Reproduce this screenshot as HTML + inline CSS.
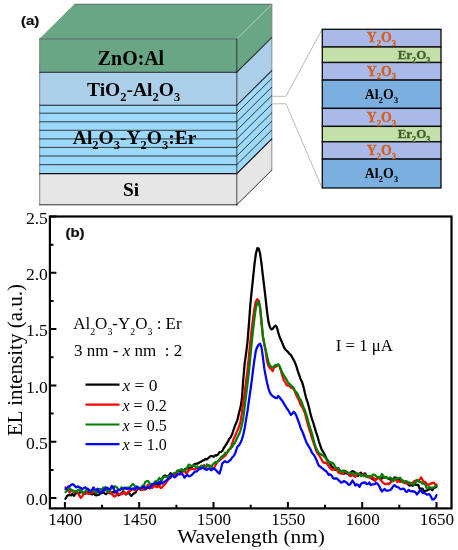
<!DOCTYPE html>
<html lang="en"><head><meta charset="utf-8"><title>Figure</title>
<style>html,body{margin:0;padding:0;background:#fff}svg{display:block}</style></head>
<body>
<svg width="458" height="550" viewBox="0 0 458 550">
<rect width="458" height="550" fill="#ffffff"/>
<polygon points="39.7,39.0 74.7,4.3 271.8,4.3 236.8,39.0" fill="#69a685" stroke="#69a685" stroke-width="0.4"/>
<polygon points="39.7,39.0 236.8,39.0 236.8,72.2 39.7,72.2" fill="#69a685" stroke="#69a685" stroke-width="0.4"/>
<polygon points="236.8,39.0 271.8,4.3 271.8,37.5 236.8,72.2" fill="#69a685" stroke="#69a685" stroke-width="0.4"/>
<polygon points="39.7,72.2 236.8,72.2 236.8,105.3 39.7,105.3" fill="#abcee9" stroke="#abcee9" stroke-width="0.4"/>
<polygon points="236.8,72.2 271.8,37.5 271.8,70.6 236.8,105.3" fill="#abcee9" stroke="#abcee9" stroke-width="0.4"/>
<polygon points="39.7,105.3 236.8,105.3 236.8,113.2 39.7,113.2" fill="#9cd9fc" stroke="#9cd9fc" stroke-width="0.4"/>
<polygon points="236.8,105.3 271.8,70.6 271.8,78.5 236.8,113.2" fill="#9cd9fc" stroke="#9cd9fc" stroke-width="0.4"/>
<polygon points="39.7,113.2 236.8,113.2 236.8,121.8 39.7,121.8" fill="#9cd9fc" stroke="#9cd9fc" stroke-width="0.4"/>
<polygon points="236.8,113.2 271.8,78.5 271.8,87.1 236.8,121.8" fill="#9cd9fc" stroke="#9cd9fc" stroke-width="0.4"/>
<polygon points="39.7,121.8 236.8,121.8 236.8,130.3 39.7,130.3" fill="#9cd9fc" stroke="#9cd9fc" stroke-width="0.4"/>
<polygon points="236.8,121.8 271.8,87.1 271.8,95.6 236.8,130.3" fill="#9cd9fc" stroke="#9cd9fc" stroke-width="0.4"/>
<polygon points="39.7,130.3 236.8,130.3 236.8,138.9 39.7,138.9" fill="#9cd9fc" stroke="#9cd9fc" stroke-width="0.4"/>
<polygon points="236.8,130.3 271.8,95.6 271.8,104.2 236.8,138.9" fill="#9cd9fc" stroke="#9cd9fc" stroke-width="0.4"/>
<polygon points="39.7,138.9 236.8,138.9 236.8,147.4 39.7,147.4" fill="#9cd9fc" stroke="#9cd9fc" stroke-width="0.4"/>
<polygon points="236.8,138.9 271.8,104.2 271.8,112.7 236.8,147.4" fill="#9cd9fc" stroke="#9cd9fc" stroke-width="0.4"/>
<polygon points="39.7,147.4 236.8,147.4 236.8,156.0 39.7,156.0" fill="#9cd9fc" stroke="#9cd9fc" stroke-width="0.4"/>
<polygon points="236.8,147.4 271.8,112.7 271.8,121.3 236.8,156.0" fill="#9cd9fc" stroke="#9cd9fc" stroke-width="0.4"/>
<polygon points="39.7,156.0 236.8,156.0 236.8,164.7 39.7,164.7" fill="#9cd9fc" stroke="#9cd9fc" stroke-width="0.4"/>
<polygon points="236.8,156.0 271.8,121.3 271.8,130.0 236.8,164.7" fill="#9cd9fc" stroke="#9cd9fc" stroke-width="0.4"/>
<polygon points="39.7,164.7 236.8,164.7 236.8,173.6 39.7,173.6" fill="#9cd9fc" stroke="#9cd9fc" stroke-width="0.4"/>
<polygon points="236.8,164.7 271.8,130.0 271.8,138.9 236.8,173.6" fill="#9cd9fc" stroke="#9cd9fc" stroke-width="0.4"/>
<polygon points="39.7,173.6 236.8,173.6 236.8,204.8 39.7,204.8" fill="#e6e6e6" stroke="#e6e6e6" stroke-width="0.4"/>
<polygon points="236.8,173.6 271.8,138.9 271.8,170.1 236.8,204.8" fill="#e6e6e6" stroke="#e6e6e6" stroke-width="0.4"/>
<line x1="236.8" y1="39.0" x2="271.8" y2="4.3" stroke="#b4d2c0" stroke-width="0.9" stroke-linecap="round"/>
<line x1="39.7" y1="39.0" x2="74.7" y2="4.3" stroke="#5f9a78" stroke-width="0.6" stroke-linecap="round"/>
<line x1="74.7" y1="4.3" x2="271.8" y2="4.3" stroke="#5a5a5a" stroke-width="0.8" stroke-linecap="round"/>
<line x1="271.8" y1="4.3" x2="271.8" y2="170.1" stroke="#7a7a7a" stroke-width="0.8" stroke-linecap="round"/>
<line x1="39.7" y1="39.0" x2="236.8" y2="39.0" stroke="#5a5a5a" stroke-width="0.8" stroke-linecap="round"/>
<line x1="39.7" y1="39.0" x2="39.7" y2="204.8" stroke="#7a7a7a" stroke-width="0.9" stroke-linecap="round"/>
<line x1="39.7" y1="72.2" x2="236.8" y2="72.2" stroke="#1c1c1c" stroke-width="1.05" stroke-linecap="round"/>
<line x1="236.8" y1="72.2" x2="271.8" y2="37.5" stroke="#1c1c1c" stroke-width="1.05" stroke-linecap="round"/>
<line x1="39.7" y1="105.3" x2="236.8" y2="105.3" stroke="#1c1c1c" stroke-width="1.05" stroke-linecap="round"/>
<line x1="236.8" y1="105.3" x2="271.8" y2="70.6" stroke="#1c1c1c" stroke-width="1.05" stroke-linecap="round"/>
<line x1="39.7" y1="113.2" x2="236.8" y2="113.2" stroke="#1c1c1c" stroke-width="0.85" stroke-linecap="round"/>
<line x1="236.8" y1="113.2" x2="271.8" y2="78.5" stroke="#1c1c1c" stroke-width="0.85" stroke-linecap="round"/>
<line x1="39.7" y1="121.8" x2="236.8" y2="121.8" stroke="#1c1c1c" stroke-width="0.85" stroke-linecap="round"/>
<line x1="236.8" y1="121.8" x2="271.8" y2="87.1" stroke="#1c1c1c" stroke-width="0.85" stroke-linecap="round"/>
<line x1="39.7" y1="130.3" x2="236.8" y2="130.3" stroke="#1c1c1c" stroke-width="0.85" stroke-linecap="round"/>
<line x1="236.8" y1="130.3" x2="271.8" y2="95.6" stroke="#1c1c1c" stroke-width="0.85" stroke-linecap="round"/>
<line x1="39.7" y1="138.9" x2="236.8" y2="138.9" stroke="#1c1c1c" stroke-width="0.85" stroke-linecap="round"/>
<line x1="236.8" y1="138.9" x2="271.8" y2="104.2" stroke="#1c1c1c" stroke-width="0.85" stroke-linecap="round"/>
<line x1="39.7" y1="147.4" x2="236.8" y2="147.4" stroke="#1c1c1c" stroke-width="0.85" stroke-linecap="round"/>
<line x1="236.8" y1="147.4" x2="271.8" y2="112.7" stroke="#1c1c1c" stroke-width="0.85" stroke-linecap="round"/>
<line x1="39.7" y1="156.0" x2="236.8" y2="156.0" stroke="#1c1c1c" stroke-width="0.85" stroke-linecap="round"/>
<line x1="236.8" y1="156.0" x2="271.8" y2="121.3" stroke="#1c1c1c" stroke-width="0.85" stroke-linecap="round"/>
<line x1="39.7" y1="164.7" x2="236.8" y2="164.7" stroke="#1c1c1c" stroke-width="0.85" stroke-linecap="round"/>
<line x1="236.8" y1="164.7" x2="271.8" y2="130.0" stroke="#1c1c1c" stroke-width="0.85" stroke-linecap="round"/>
<line x1="39.7" y1="173.6" x2="236.8" y2="173.6" stroke="#111" stroke-width="1.2" stroke-linecap="round"/>
<line x1="236.8" y1="173.6" x2="271.8" y2="138.9" stroke="#111" stroke-width="1.2" stroke-linecap="round"/>
<line x1="39.7" y1="204.8" x2="236.8" y2="204.8" stroke="#1c1c1c" stroke-width="0.9" stroke-linecap="round"/>
<line x1="236.8" y1="204.8" x2="271.8" y2="170.1" stroke="#1c1c1c" stroke-width="0.9" stroke-linecap="round"/>
<line x1="236.8" y1="39.0" x2="236.8" y2="204.8" stroke="#1c1c1c" stroke-width="0.8" stroke-linecap="round"/>
<text x="131" y="64.6" font-family="'Liberation Serif', serif" font-size="19.9" font-weight="bold" text-anchor="middle" fill="#000" >ZnO:Al</text>
<text x="133.6" y="95.9" font-family="'Liberation Serif', serif" font-size="19.5" font-weight="bold" text-anchor="middle" fill="#000" >TiO<tspan dy="5.2" font-size="0.64em">2</tspan><tspan dy="-5.2">-Al</tspan><tspan dy="5.2" font-size="0.64em">2</tspan><tspan dy="-5.2">O</tspan><tspan dy="5.2" font-size="0.64em">3</tspan></text>
<text x="134.6" y="143.6" font-family="'Liberation Serif', serif" font-size="19.5" font-weight="bold" text-anchor="middle" fill="#000" >Al<tspan dy="5.2" font-size="0.64em">2</tspan><tspan dy="-5.2">O</tspan><tspan dy="5.2" font-size="0.64em">3</tspan><tspan dy="-5.2">-Y</tspan><tspan dy="5.2" font-size="0.64em">2</tspan><tspan dy="-5.2">O</tspan><tspan dy="5.2" font-size="0.64em">3</tspan><tspan dy="-5.2">:Er</tspan></text>
<text x="131" y="196" font-family="'Liberation Serif', serif" font-size="19.4" font-weight="bold" text-anchor="middle" fill="#000" >Si</text>
<text transform="translate(21.0,24.5) scale(1.12,1)" font-family="'Liberation Sans', sans-serif" font-size="13.4" font-weight="bold" fill="#111" stroke="#111" stroke-width="0.25">(a)</text>
<polyline points="272,96.3 286,96.3 322,29.5" fill="none" stroke="#b9bfae" stroke-width="1"/>
<polyline points="272,103.8 286,103.8 322,187.8" fill="none" stroke="#b9bfae" stroke-width="1"/>
<rect x="322.3" y="29.3" width="118.7" height="17.7" fill="#a9b9e8" stroke="#0a0a0a" stroke-width="1.3"/>
<rect x="322.3" y="47.0" width="118.7" height="15.5" fill="#c3e0a8" stroke="#0a0a0a" stroke-width="1.3"/>
<rect x="322.3" y="62.5" width="118.7" height="17.6" fill="#a9b9e8" stroke="#0a0a0a" stroke-width="1.3"/>
<rect x="322.3" y="80.1" width="118.7" height="28.3" fill="#7aafe0" stroke="#0a0a0a" stroke-width="1.3"/>
<rect x="322.3" y="108.4" width="118.7" height="18.0" fill="#a9b9e8" stroke="#0a0a0a" stroke-width="1.3"/>
<rect x="322.3" y="126.4" width="118.7" height="15.4" fill="#c3e0a8" stroke="#0a0a0a" stroke-width="1.3"/>
<rect x="322.3" y="141.8" width="118.7" height="17.3" fill="#a9b9e8" stroke="#0a0a0a" stroke-width="1.3"/>
<rect x="322.3" y="159.1" width="118.7" height="28.9" fill="#7aafe0" stroke="#0a0a0a" stroke-width="1.3"/>
<text x="381.3" y="42.2" font-family="'Liberation Serif', serif" font-size="13.8" font-weight="bold" text-anchor="middle" fill="#d55f20" stroke="#d55f20" stroke-width="0.3">Y<tspan dy="3.3" font-size="0.62em">2</tspan><tspan dy="-3.3">O</tspan><tspan dy="3.3" font-size="0.62em">3</tspan></text>
<text x="430.3" y="59.2" font-family="'Liberation Serif', serif" font-size="13" font-weight="bold" text-anchor="end" fill="#40602a" stroke="#40602a" stroke-width="0.3">Er<tspan dy="3.3" font-size="0.62em">2</tspan><tspan dy="-3.3">O</tspan><tspan dy="3.3" font-size="0.62em">3</tspan></text>
<text x="381.3" y="76" font-family="'Liberation Serif', serif" font-size="13.8" font-weight="bold" text-anchor="middle" fill="#d55f20" stroke="#d55f20" stroke-width="0.3">Y<tspan dy="3.3" font-size="0.62em">2</tspan><tspan dy="-3.3">O</tspan><tspan dy="3.3" font-size="0.62em">3</tspan></text>
<text x="381.5" y="99.1" font-family="'Liberation Serif', serif" font-size="13.8" font-weight="bold" text-anchor="middle" fill="#000" >Al<tspan dy="3.8" font-size="0.64em">2</tspan><tspan dy="-3.8">O</tspan><tspan dy="3.8" font-size="0.64em">3</tspan></text>
<text x="381.3" y="122.3" font-family="'Liberation Serif', serif" font-size="13.8" font-weight="bold" text-anchor="middle" fill="#d55f20" stroke="#d55f20" stroke-width="0.3">Y<tspan dy="3.3" font-size="0.62em">2</tspan><tspan dy="-3.3">O</tspan><tspan dy="3.3" font-size="0.62em">3</tspan></text>
<text x="430.3" y="138.3" font-family="'Liberation Serif', serif" font-size="13" font-weight="bold" text-anchor="end" fill="#40602a" stroke="#40602a" stroke-width="0.3">Er<tspan dy="3.3" font-size="0.62em">2</tspan><tspan dy="-3.3">O</tspan><tspan dy="3.3" font-size="0.62em">3</tspan></text>
<text x="381.3" y="155.2" font-family="'Liberation Serif', serif" font-size="13.8" font-weight="bold" text-anchor="middle" fill="#d55f20" stroke="#d55f20" stroke-width="0.3">Y<tspan dy="3.3" font-size="0.62em">2</tspan><tspan dy="-3.3">O</tspan><tspan dy="3.3" font-size="0.62em">3</tspan></text>
<text x="381.5" y="178.3" font-family="'Liberation Serif', serif" font-size="13.8" font-weight="bold" text-anchor="middle" fill="#000" >Al<tspan dy="3.8" font-size="0.64em">2</tspan><tspan dy="-3.8">O</tspan><tspan dy="3.8" font-size="0.64em">3</tspan></text>
<g fill="none" stroke-width="2.25" stroke-linejoin="round" stroke-linecap="round">
<polyline stroke="#000000" points="65.5,498.8 66.9,496.2 68.3,495.0 69.7,495.0 71.1,495.4 72.5,493.8 73.9,495.8 75.3,494.0 76.7,492.7 78.1,493.1 79.5,493.1 80.9,491.0 82.3,491.7 83.7,493.4 85.1,493.9 86.5,492.7 87.9,492.3 89.3,492.7 90.7,493.9 92.1,494.4 93.5,492.9 94.9,494.9 96.3,495.3 97.7,494.9 99.1,494.7 100.5,493.4 101.9,493.0 103.3,492.5 104.7,493.4 106.1,494.2 107.5,493.0 108.9,492.9 110.3,493.4 111.7,492.4 113.1,492.1 114.5,492.5 115.9,491.6 117.3,493.0 118.7,495.3 120.1,494.4 121.5,493.0 122.9,491.7 124.3,492.2 125.7,494.4 127.1,493.7 128.5,492.0 129.9,494.4 131.3,495.9 132.7,494.4 134.1,493.3 135.5,492.6 136.9,489.8 138.3,488.3 139.7,488.1 141.1,488.5 142.5,489.0 143.9,489.5 145.3,489.3 146.7,488.3 148.1,487.9 149.5,486.7 150.9,487.7 152.3,486.6 153.7,485.7 155.1,484.8 156.5,484.4 157.9,485.0 159.3,485.1 160.7,483.0 162.1,478.6 163.5,476.2 164.9,475.5 166.3,476.0 167.7,476.8 169.1,475.2 170.5,473.2 171.9,474.2 173.3,475.0 174.7,473.8 176.1,473.2 177.5,471.8 178.9,470.7 180.3,470.9 181.7,471.0 183.1,470.3 184.5,469.5 185.9,468.6 187.3,468.3 188.7,467.9 190.1,468.4 191.5,467.5 192.9,465.8 194.3,464.2 195.7,463.8 197.1,463.6 198.5,463.1 199.9,462.1 201.3,461.7 202.7,460.6 204.1,460.1 205.5,459.0 206.9,459.3 208.3,458.2 209.7,456.7 211.1,456.0 212.5,456.2 213.9,456.8 215.3,455.1 216.7,455.5 218.1,454.3 219.5,452.2 220.9,452.0 222.3,451.1 223.7,448.0 225.1,446.2 226.5,443.9 227.9,441.7 229.3,438.7 230.7,437.2 232.1,434.3 233.5,430.0 234.9,425.9 236.3,422.8 237.7,418.8 239.1,412.4 240.5,407.6 241.9,398.8 243.3,379.2 244.7,363.2 246.1,353.3 247.5,341.9 248.9,324.4 250.3,305.1 251.7,291.0 253.1,277.7 254.5,264.0 255.9,253.8 257.3,248.2 258.7,248.5 260.1,253.8 261.5,263.7 262.9,275.9 264.3,287.3 265.7,299.4 267.1,312.1 268.5,322.1 269.9,327.1 271.3,329.3 272.7,328.9 274.1,326.8 275.5,325.6 276.9,327.3 278.3,332.6 279.7,337.3 281.1,340.3 282.5,343.5 283.9,347.1 285.3,349.4 286.7,350.7 288.1,352.1 289.5,354.0 290.9,354.9 292.3,357.5 293.7,359.9 295.1,362.8 296.5,366.6 297.9,371.4 299.3,375.3 300.7,379.5 302.1,382.1 303.5,386.9 304.9,393.1 306.3,398.7 307.7,402.5 309.1,407.8 310.5,413.9 311.9,418.8 313.3,422.7 314.7,427.6 316.1,432.4 317.5,436.3 318.9,441.5 320.3,445.6 321.7,449.6 323.1,451.8 324.5,454.2 325.9,457.5 327.3,459.8 328.7,461.6 330.1,463.8 331.5,466.3 332.9,467.4 334.3,469.5 335.7,469.9 337.1,469.2 338.5,468.3 339.9,470.5 341.3,471.8 342.7,473.2 344.1,473.7 345.5,473.0 346.9,473.5 348.3,473.9 349.7,475.1 351.1,472.0 352.5,471.1 353.9,471.8 355.3,472.6 356.7,473.6 358.1,476.0 359.5,473.9 360.9,472.6 362.3,474.9 363.7,473.8 365.1,473.4 366.5,475.7 367.9,476.6 369.3,476.0 370.7,478.1 372.1,478.8 373.5,479.8 374.9,479.0 376.3,479.3 377.7,477.9 379.1,477.0 380.5,479.7 381.9,478.2 383.3,477.4 384.7,477.4 386.1,477.5 387.5,477.8 388.9,478.8 390.3,479.6 391.7,480.4 393.1,478.9 394.5,477.4 395.9,477.5 397.3,478.6 398.7,478.8 400.1,481.3 401.5,481.1 402.9,481.6 404.3,482.4 405.7,481.8 407.1,482.9 408.5,485.0 409.9,485.6 411.3,484.8 412.7,485.8 414.1,484.1 415.5,484.8 416.9,484.8 418.3,484.8 419.7,489.0 421.1,488.7 422.5,488.6 423.9,491.3 425.3,490.8 426.7,490.7 428.1,489.7 429.5,489.3 430.9,488.8 432.3,490.2 433.7,488.3 435.1,487.6 436.5,486.7"/>
<polyline stroke="#ff0000" points="65.5,487.4 66.9,489.2 68.3,490.3 69.7,492.8 71.1,490.4 72.5,490.5 73.9,492.1 75.3,491.1 76.7,491.3 78.1,493.0 79.5,496.0 80.9,497.9 82.3,496.1 83.7,493.5 85.1,493.4 86.5,492.7 87.9,493.6 89.3,493.9 90.7,492.9 92.1,492.7 93.5,491.6 94.9,492.3 96.3,492.6 97.7,490.9 99.1,492.0 100.5,491.8 101.9,490.3 103.3,488.9 104.7,488.5 106.1,489.3 107.5,491.4 108.9,493.1 110.3,491.1 111.7,493.5 113.1,495.5 114.5,496.6 115.9,495.7 117.3,493.7 118.7,493.7 120.1,494.4 121.5,494.2 122.9,493.4 124.3,492.1 125.7,494.3 127.1,493.6 128.5,491.4 129.9,491.2 131.3,489.7 132.7,488.9 134.1,489.9 135.5,490.3 136.9,488.6 138.3,488.0 139.7,489.3 141.1,490.2 142.5,489.4 143.9,488.3 145.3,488.6 146.7,486.9 148.1,484.7 149.5,485.9 150.9,487.2 152.3,487.8 153.7,486.7 155.1,485.5 156.5,487.2 157.9,486.8 159.3,486.0 160.7,488.1 162.1,487.4 163.5,485.6 164.9,484.4 166.3,482.4 167.7,480.3 169.1,478.8 170.5,478.0 171.9,474.8 173.3,475.2 174.7,475.3 176.1,473.2 177.5,473.6 178.9,473.9 180.3,474.3 181.7,473.9 183.1,471.3 184.5,470.3 185.9,472.9 187.3,472.6 188.7,470.1 190.1,469.5 191.5,468.9 192.9,469.0 194.3,469.4 195.7,469.1 197.1,466.6 198.5,468.2 199.9,467.3 201.3,466.2 202.7,466.8 204.1,465.0 205.5,467.4 206.9,466.6 208.3,465.2 209.7,465.6 211.1,466.2 212.5,468.6 213.9,468.4 215.3,465.4 216.7,462.9 218.1,461.2 219.5,460.4 220.9,459.3 222.3,457.8 223.7,456.8 225.1,455.9 226.5,453.8 227.9,450.8 229.3,449.2 230.7,448.7 232.1,443.5 233.5,439.3 234.9,436.5 236.3,433.1 237.7,429.8 239.1,426.4 240.5,421.7 241.9,412.9 243.3,402.0 244.7,392.3 246.1,381.5 247.5,370.2 248.9,356.2 250.3,341.8 251.7,329.2 253.1,318.0 254.5,308.1 255.9,301.5 257.3,299.2 258.7,300.6 260.1,308.3 261.5,323.9 262.9,337.0 264.3,344.3 265.7,351.5 267.1,361.3 268.5,365.9 269.9,368.1 271.3,369.1 272.7,371.1 274.1,367.4 275.5,366.9 276.9,365.6 278.3,365.2 279.7,366.6 281.1,371.5 282.5,376.1 283.9,380.4 285.3,382.3 286.7,385.2 288.1,385.6 289.5,385.7 290.9,387.7 292.3,388.2 293.7,388.9 295.1,392.0 296.5,395.6 297.9,398.1 299.3,401.0 300.7,405.1 302.1,406.5 303.5,409.8 304.9,413.0 306.3,418.6 307.7,424.2 309.1,428.6 310.5,433.0 311.9,438.0 313.3,442.0 314.7,446.0 316.1,450.5 317.5,453.3 318.9,454.9 320.3,457.3 321.7,459.7 323.1,462.1 324.5,463.0 325.9,462.7 327.3,464.0 328.7,466.2 330.1,467.9 331.5,469.6 332.9,469.9 334.3,468.8 335.7,468.6 337.1,470.2 338.5,472.6 339.9,473.3 341.3,473.4 342.7,473.8 344.1,471.4 345.5,471.3 346.9,471.9 348.3,473.4 349.7,476.0 351.1,476.0 352.5,474.5 353.9,475.9 355.3,476.9 356.7,474.9 358.1,474.2 359.5,473.7 360.9,475.4 362.3,475.2 363.7,474.1 365.1,475.4 366.5,477.1 367.9,476.5 369.3,477.4 370.7,478.0 372.1,477.2 373.5,477.6 374.9,481.0 376.3,479.1 377.7,478.0 379.1,478.4 380.5,479.4 381.9,481.4 383.3,482.9 384.7,483.9 386.1,484.2 387.5,483.5 388.9,484.1 390.3,482.8 391.7,480.8 393.1,480.5 394.5,480.2 395.9,479.1 397.3,482.1 398.7,481.0 400.1,481.7 401.5,480.9 402.9,480.4 404.3,482.6 405.7,483.3 407.1,483.3 408.5,483.8 409.9,483.0 411.3,483.2 412.7,483.1 414.1,481.2 415.5,480.7 416.9,481.1 418.3,480.9 419.7,479.7 421.1,477.4 422.5,479.8 423.9,482.3 425.3,481.8 426.7,483.9 428.1,485.1 429.5,484.3 430.9,483.6 432.3,483.1 433.7,482.6 435.1,484.2 436.5,484.8"/>
<polyline stroke="#008000" points="65.5,492.1 66.9,490.8 68.3,489.7 69.7,488.2 71.1,489.7 72.5,490.5 73.9,491.4 75.3,490.8 76.7,491.8 78.1,490.0 79.5,489.5 80.9,491.4 82.3,492.6 83.7,492.6 85.1,491.5 86.5,489.9 87.9,489.9 89.3,490.3 90.7,491.9 92.1,490.0 93.5,489.8 94.9,491.3 96.3,493.0 97.7,491.3 99.1,489.2 100.5,489.1 101.9,489.7 103.3,487.7 104.7,487.4 106.1,488.1 107.5,490.9 108.9,492.2 110.3,489.2 111.7,488.1 113.1,487.7 114.5,486.2 115.9,486.7 117.3,487.9 118.7,490.3 120.1,489.4 121.5,487.3 122.9,489.7 124.3,489.3 125.7,487.7 127.1,487.7 128.5,487.9 129.9,487.0 131.3,485.9 132.7,484.0 134.1,485.1 135.5,486.9 136.9,486.6 138.3,487.9 139.7,487.8 141.1,487.7 142.5,485.7 143.9,485.5 145.3,481.9 146.7,481.2 148.1,481.0 149.5,483.1 150.9,484.2 152.3,483.9 153.7,483.7 155.1,481.3 156.5,481.4 157.9,480.3 159.3,478.0 160.7,479.5 162.1,479.7 163.5,476.7 164.9,476.6 166.3,476.9 167.7,476.9 169.1,476.1 170.5,475.6 171.9,475.7 173.3,473.6 174.7,473.0 176.1,472.7 177.5,470.4 178.9,470.4 180.3,470.5 181.7,469.0 183.1,470.5 184.5,471.3 185.9,469.7 187.3,467.6 188.7,464.6 190.1,465.4 191.5,465.9 192.9,465.7 194.3,465.4 195.7,467.3 197.1,466.7 198.5,467.0 199.9,467.2 201.3,465.7 202.7,466.1 204.1,468.5 205.5,467.5 206.9,464.5 208.3,465.5 209.7,466.5 211.1,467.3 212.5,464.8 213.9,463.3 215.3,462.1 216.7,462.4 218.1,461.1 219.5,459.2 220.9,457.4 222.3,456.2 223.7,455.6 225.1,452.9 226.5,452.7 227.9,451.8 229.3,449.7 230.7,447.3 232.1,447.1 233.5,444.4 234.9,442.7 236.3,439.8 237.7,436.8 239.1,434.1 240.5,430.3 241.9,424.8 243.3,418.0 244.7,406.7 246.1,395.1 247.5,383.9 248.9,372.1 250.3,357.7 251.7,343.1 253.1,329.9 254.5,317.9 255.9,307.7 257.3,303.5 258.7,301.2 260.1,306.9 261.5,320.2 262.9,335.8 264.3,343.6 265.7,349.7 267.1,356.6 268.5,362.3 269.9,365.3 271.3,366.9 272.7,367.6 274.1,366.3 275.5,364.8 276.9,365.4 278.3,364.1 279.7,366.4 281.1,370.0 282.5,373.1 283.9,375.4 285.3,377.6 286.7,379.8 288.1,382.8 289.5,383.9 290.9,385.3 292.3,386.5 293.7,388.1 295.1,391.3 296.5,392.4 297.9,394.7 299.3,398.3 300.7,399.7 302.1,403.4 303.5,407.3 304.9,410.5 306.3,414.6 307.7,419.4 309.1,424.7 310.5,429.0 311.9,433.4 313.3,438.9 314.7,444.2 316.1,448.0 317.5,451.0 318.9,453.1 320.3,453.7 321.7,454.9 323.1,455.2 324.5,457.0 325.9,458.4 327.3,461.1 328.7,462.5 330.1,462.1 331.5,462.5 332.9,463.1 334.3,465.0 335.7,467.6 337.1,468.4 338.5,469.0 339.9,471.9 341.3,472.1 342.7,470.5 344.1,470.6 345.5,471.0 346.9,472.3 348.3,472.7 349.7,472.8 351.1,473.3 352.5,474.1 353.9,474.0 355.3,473.4 356.7,473.9 358.1,473.6 359.5,474.1 360.9,476.1 362.3,474.9 363.7,476.3 365.1,475.2 366.5,476.2 367.9,477.0 369.3,476.0 370.7,475.9 372.1,475.6 373.5,474.5 374.9,474.8 376.3,476.4 377.7,477.6 379.1,477.4 380.5,477.7 381.9,474.0 383.3,475.8 384.7,477.8 386.1,476.9 387.5,478.6 388.9,478.1 390.3,477.5 391.7,478.7 393.1,481.3 394.5,479.0 395.9,478.9 397.3,478.2 398.7,478.3 400.1,477.7 401.5,479.7 402.9,482.5 404.3,481.7 405.7,481.0 407.1,481.5 408.5,482.7 409.9,482.6 411.3,484.2 412.7,484.2 414.1,483.6 415.5,483.0 416.9,479.8 418.3,480.7 419.7,482.2 421.1,482.0 422.5,483.7 423.9,483.6 425.3,484.6 426.7,488.0 428.1,488.0 429.5,487.0 430.9,488.1 432.3,487.6 433.7,487.6 435.1,486.3 436.5,485.8"/>
<polyline stroke="#0000ff" points="65.5,489.1 66.9,488.2 68.3,486.4 69.7,486.3 71.1,485.0 72.5,484.1 73.9,485.0 75.3,486.6 76.7,487.4 78.1,486.3 79.5,487.4 80.9,488.0 82.3,489.1 83.7,488.2 85.1,487.2 86.5,488.7 87.9,488.7 89.3,490.3 90.7,491.2 92.1,489.8 93.5,487.4 94.9,489.5 96.3,489.8 97.7,488.7 99.1,492.5 100.5,492.9 101.9,492.0 103.3,489.8 104.7,490.5 106.1,487.5 107.5,487.9 108.9,489.3 110.3,488.7 111.7,486.0 113.1,487.0 114.5,490.8 115.9,492.4 117.3,490.6 118.7,489.8 120.1,490.3 121.5,488.8 122.9,488.9 124.3,487.7 125.7,488.3 127.1,489.0 128.5,488.7 129.9,488.4 131.3,489.3 132.7,488.6 134.1,488.4 135.5,488.9 136.9,486.6 138.3,487.9 139.7,488.6 141.1,488.4 142.5,487.6 143.9,486.5 145.3,487.9 146.7,487.2 148.1,487.2 149.5,488.3 150.9,486.0 152.3,484.4 153.7,483.9 155.1,483.2 156.5,482.8 157.9,483.5 159.3,481.9 160.7,481.7 162.1,483.6 163.5,482.3 164.9,481.6 166.3,480.5 167.7,479.0 169.1,478.3 170.5,476.9 171.9,474.8 173.3,476.3 174.7,477.4 176.1,476.2 177.5,474.5 178.9,474.3 180.3,473.0 181.7,474.0 183.1,474.9 184.5,477.7 185.9,475.9 187.3,474.6 188.7,476.4 190.1,476.0 191.5,475.3 192.9,473.8 194.3,472.3 195.7,471.5 197.1,471.3 198.5,469.6 199.9,468.4 201.3,468.7 202.7,467.5 204.1,468.3 205.5,469.4 206.9,469.9 208.3,468.6 209.7,468.7 211.1,470.4 212.5,469.3 213.9,468.3 215.3,469.6 216.7,470.9 218.1,472.5 219.5,473.6 220.9,469.1 222.3,463.5 223.7,462.1 225.1,461.1 226.5,462.1 227.9,462.2 229.3,460.8 230.7,459.9 232.1,457.5 233.5,456.2 234.9,454.1 236.3,449.9 237.7,446.2 239.1,445.3 240.5,442.8 241.9,439.4 243.3,434.6 244.7,428.0 246.1,419.4 247.5,411.0 248.9,401.0 250.3,391.0 251.7,381.0 253.1,369.5 254.5,359.2 255.9,350.5 257.3,346.8 258.7,344.6 260.1,343.7 261.5,347.3 262.9,357.2 264.3,368.4 265.7,376.1 267.1,383.0 268.5,388.6 269.9,392.6 271.3,394.8 272.7,396.2 274.1,396.9 275.5,398.0 276.9,398.2 278.3,395.9 279.7,397.5 281.1,399.5 282.5,401.0 283.9,403.6 285.3,405.8 286.7,408.2 288.1,410.0 289.5,412.5 290.9,414.8 292.3,413.6 293.7,411.8 295.1,413.3 296.5,416.1 297.9,420.0 299.3,423.7 300.7,428.2 302.1,431.0 303.5,434.5 304.9,438.4 306.3,442.2 307.7,444.6 309.1,447.0 310.5,449.3 311.9,452.7 313.3,454.3 314.7,456.2 316.1,459.2 317.5,462.7 318.9,465.7 320.3,466.6 321.7,467.8 323.1,468.8 324.5,470.3 325.9,470.9 327.3,472.6 328.7,475.0 330.1,474.3 331.5,475.3 332.9,478.1 334.3,478.6 335.7,478.3 337.1,478.6 338.5,480.3 339.9,481.2 341.3,482.7 342.7,481.9 344.1,481.1 345.5,481.9 346.9,482.8 348.3,484.6 349.7,484.8 351.1,483.0 352.5,480.5 353.9,482.6 355.3,485.6 356.7,484.2 358.1,485.0 359.5,486.9 360.9,483.9 362.3,483.1 363.7,482.7 365.1,482.3 366.5,484.1 367.9,484.0 369.3,482.5 370.7,485.1 372.1,484.4 373.5,484.4 374.9,484.0 376.3,483.0 377.7,483.8 379.1,485.8 380.5,489.2 381.9,491.5 383.3,489.9 384.7,489.0 386.1,490.7 387.5,490.6 388.9,490.4 390.3,490.0 391.7,488.6 393.1,486.3 394.5,485.1 395.9,486.3 397.3,487.2 398.7,487.4 400.1,489.1 401.5,489.2 402.9,488.6 404.3,489.0 405.7,491.5 407.1,491.8 408.5,489.9 409.9,490.9 411.3,491.4 412.7,491.1 414.1,491.6 415.5,492.3 416.9,494.5 418.3,492.8 419.7,490.5 421.1,490.8 422.5,492.9 423.9,492.6 425.3,493.5 426.7,494.7 428.1,494.2 429.5,494.3 430.9,496.5 432.3,499.4 433.7,499.4 435.1,498.2 436.5,495.1"/>
</g>
<rect x="49.9" y="216.5" width="401.6" height="291.9" fill="none" stroke="#000" stroke-width="2.2"/>
<path d="M49.9,498.0h6.5 M49.9,469.9h3.6 M49.9,441.7h6.5 M49.9,413.6h3.6 M49.9,385.4h6.5 M49.9,357.2h3.6 M49.9,329.1h6.5 M49.9,301.0h3.6 M49.9,272.8h6.5 M49.9,244.7h3.6 M49.9,216.5h6.5 M64.9,508.4v-6.5 M102.1,508.4v-3.6 M139.2,508.4v-6.5 M176.4,508.4v-3.6 M213.5,508.4v-6.5 M250.7,508.4v-3.6 M287.9,508.4v-6.5 M325.0,508.4v-3.6 M362.2,508.4v-6.5 M399.3,508.4v-3.6 M436.5,508.4v-6.5" stroke="#000" stroke-width="2" fill="none"/>
<text transform="translate(47.8,505.2) scale(1.07,1)" font-family="'Liberation Serif', serif" font-size="16.4" text-anchor="end" fill="#000">0.0</text>
<text transform="translate(47.8,448.9) scale(1.07,1)" font-family="'Liberation Serif', serif" font-size="16.4" text-anchor="end" fill="#000">0.5</text>
<text transform="translate(47.8,392.6) scale(1.07,1)" font-family="'Liberation Serif', serif" font-size="16.4" text-anchor="end" fill="#000">1.0</text>
<text transform="translate(47.8,336.3) scale(1.07,1)" font-family="'Liberation Serif', serif" font-size="16.4" text-anchor="end" fill="#000">1.5</text>
<text transform="translate(47.8,280.0) scale(1.07,1)" font-family="'Liberation Serif', serif" font-size="16.4" text-anchor="end" fill="#000">2.0</text>
<text transform="translate(47.8,223.7) scale(1.07,1)" font-family="'Liberation Serif', serif" font-size="16.4" text-anchor="end" fill="#000">2.5</text>
<text transform="translate(65.3,524.8) scale(1.07,1)" font-family="'Liberation Serif', serif" font-size="16" text-anchor="middle" fill="#000">1400</text>
<text transform="translate(139.6,524.8) scale(1.07,1)" font-family="'Liberation Serif', serif" font-size="16" text-anchor="middle" fill="#000">1450</text>
<text transform="translate(213.9,524.8) scale(1.07,1)" font-family="'Liberation Serif', serif" font-size="16" text-anchor="middle" fill="#000">1500</text>
<text transform="translate(288.3,524.8) scale(1.07,1)" font-family="'Liberation Serif', serif" font-size="16" text-anchor="middle" fill="#000">1550</text>
<text transform="translate(362.6,524.8) scale(1.07,1)" font-family="'Liberation Serif', serif" font-size="16" text-anchor="middle" fill="#000">1600</text>
<text transform="translate(436.9,524.8) scale(1.07,1)" font-family="'Liberation Serif', serif" font-size="16" text-anchor="middle" fill="#000">1650</text>
<text transform="translate(251,543.3) scale(1.075,1)" font-family="'Liberation Serif', serif" font-size="19.8" text-anchor="middle" fill="#000">Wavelength (nm)</text>
<text transform="translate(21.5,360) rotate(-90)" font-family="'Liberation Serif', serif" font-size="21" text-anchor="middle" fill="#000">EL intensity (a.u.)</text>
<text transform="translate(65.4,237.1) scale(1.12,1)" font-family="'Liberation Sans', sans-serif" font-size="13.4" font-weight="bold" fill="#111" stroke="#111" stroke-width="0.25">(b)</text>
<text x="73.2" y="328.7" font-family="'Liberation Serif', serif" font-size="17" font-weight="normal" text-anchor="start" fill="#000" >Al<tspan dy="6" font-size="0.58em">2</tspan><tspan dy="-6">O</tspan><tspan dy="6" font-size="0.58em">3</tspan><tspan dy="-6">-Y</tspan><tspan dy="6" font-size="0.58em">2</tspan><tspan dy="-6">O</tspan><tspan dy="6" font-size="0.58em">3</tspan><tspan dy="-6"> : Er</tspan></text>
<text x="74" y="355.9" font-family="'Liberation Serif', serif" font-size="17" font-weight="normal" text-anchor="start" fill="#000" xml:space="preserve">3 nm - <tspan font-style="italic">x</tspan> nm  : 2</text>
<text x="335.7" y="350.6" font-family="'Liberation Serif', serif" font-size="16.8" font-weight="normal" text-anchor="start" fill="#000" >I = 1 μA</text>
<line x1="85.5" y1="384.6" x2="119.5" y2="384.6" stroke="#000000" stroke-width="2.2"/>
<text transform="translate(122.5,390.7) scale(1.09,1)" font-family="'Liberation Serif', serif" font-size="16" fill="#000"><tspan font-style="italic">x</tspan> = 0</text>
<line x1="85.5" y1="404.6" x2="119.5" y2="404.6" stroke="#ff0000" stroke-width="2.2"/>
<text transform="translate(122.5,410.7) scale(1.0,1)" font-family="'Liberation Serif', serif" font-size="16" fill="#000"><tspan font-style="italic">x</tspan> = 0.2</text>
<line x1="85.5" y1="424.5" x2="119.5" y2="424.5" stroke="#008000" stroke-width="2.2"/>
<text transform="translate(122.5,430.6) scale(1.0,1)" font-family="'Liberation Serif', serif" font-size="16" fill="#000"><tspan font-style="italic">x</tspan> = 0.5</text>
<line x1="85.5" y1="444.1" x2="119.5" y2="444.1" stroke="#0000ff" stroke-width="2.2"/>
<text transform="translate(122.5,450.2) scale(1.0,1)" font-family="'Liberation Serif', serif" font-size="16" fill="#000"><tspan font-style="italic">x</tspan> = 1.0</text>
</svg>
</body></html>
